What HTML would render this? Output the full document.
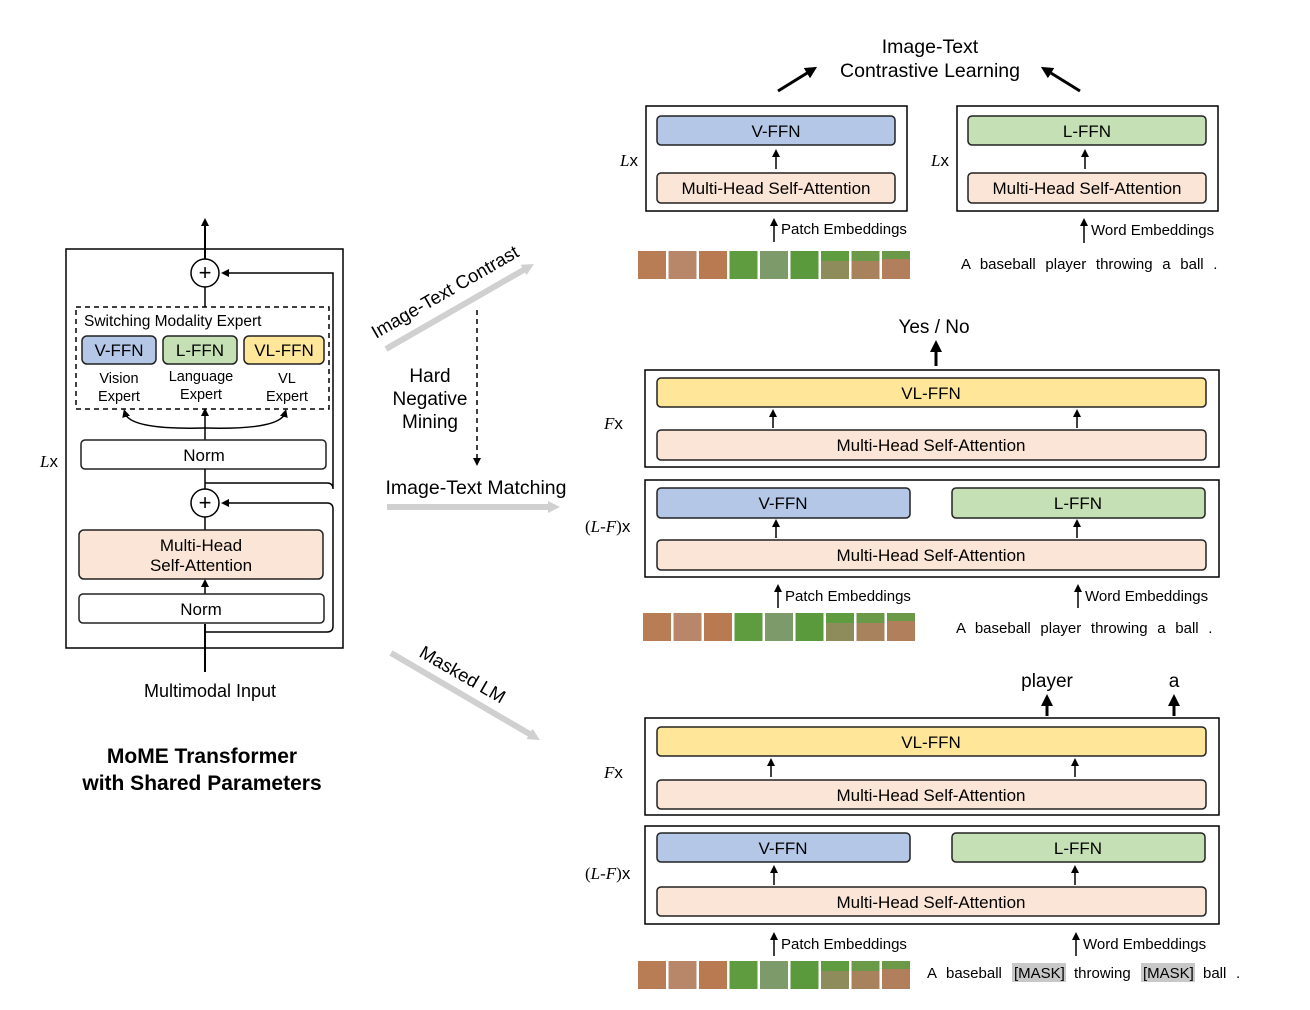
<!DOCTYPE html>
<html><head><meta charset="utf-8"><style>
html,body{margin:0;padding:0;background:#fff;}
svg{display:block;font-family:"Liberation Sans",sans-serif;}
</style></head><body>
<svg width="1310" height="1010" viewBox="0 0 1310 1010" xmlns="http://www.w3.org/2000/svg">
<defs>
<marker id="ah" markerWidth="8" markerHeight="8" refX="4" refY="4" orient="auto" markerUnits="userSpaceOnUse"><path d="M0,0 L8,4 L0,8 z" fill="#000"/></marker>
<marker id="ahb" markerWidth="12" markerHeight="12" refX="6" refY="6" orient="auto" markerUnits="userSpaceOnUse"><path d="M0,0 L12,6 L0,12 z" fill="#000"/></marker>
<marker id="ahg" markerWidth="12" markerHeight="12" refX="4" refY="6" orient="auto" markerUnits="userSpaceOnUse"><path d="M0,0 L12,6 L0,12 z" fill="#d0d0d0"/></marker>
<g id="strip">
<rect x="0" y="0" width="28" height="28" fill="#b97d55"/><rect x="30.5" y="0" width="28" height="28" fill="#b8876a"/><rect x="61" y="0" width="28" height="28" fill="#b97a52"/>
<rect x="91.5" y="0" width="28" height="28" fill="#5f9c40"/><rect x="122" y="0" width="28" height="28" fill="#7d9a6a"/><rect x="152.5" y="0" width="28" height="28" fill="#5a9a3c"/>
<rect x="183" y="0" width="28" height="28" fill="#8d8c5a"/><rect x="213.5" y="0" width="28" height="28" fill="#a7825c"/><rect x="244" y="0" width="28" height="28" fill="#b27f5c"/>
<rect x="183" y="0" width="28" height="10" fill="#5f9c40"/><rect x="213.5" y="0" width="28" height="10" fill="#6a9a48"/><rect x="244" y="0" width="28" height="8" fill="#6a9a48"/>
</g>
</defs>
<g font-size="17" fill="#000">
<!-- LEFT PANEL -->
<rect x="66" y="249" width="277" height="399" fill="none" stroke="#000" stroke-width="1.5"/>
<line x1="205" y1="672" x2="205" y2="624" stroke="#000" stroke-width="2"/>
<line x1="205" y1="259" x2="205" y2="222" stroke="#000" stroke-width="2" marker-end="url(#ah)"/>
<circle cx="205" cy="273" r="14" fill="#fff" stroke="#000" stroke-width="1.5"/>
<text x="205" y="280" font-size="22" text-anchor="middle">+</text>
<circle cx="205" cy="503" r="14" fill="#fff" stroke="#000" stroke-width="1.5"/>
<text x="205" y="510" font-size="22" text-anchor="middle">+</text>
<line x1="205" y1="287" x2="205" y2="307" stroke="#000" stroke-width="1.5"/>
<rect x="76" y="307" width="253" height="102" fill="none" stroke="#000" stroke-width="1.5" stroke-dasharray="5,4"/>
<text x="84" y="326" font-size="15.5">Switching Modality Expert</text>
<rect x="82" y="336" width="74" height="28" rx="5" fill="#b4c7e7" stroke="#222" stroke-width="1.5"/>
<text x="119" y="356" text-anchor="middle">V-FFN</text>
<rect x="163" y="336" width="74" height="28" rx="5" fill="#c5e0b4" stroke="#222" stroke-width="1.5"/>
<text x="200" y="356" text-anchor="middle">L-FFN</text>
<rect x="244" y="336" width="80" height="28" rx="5" fill="#ffe699" stroke="#222" stroke-width="1.5"/>
<text x="284" y="356" text-anchor="middle">VL-FFN</text>
<g font-size="14.5" text-anchor="middle">
<text x="119" y="383">Vision</text><text x="119" y="401">Expert</text>
<text x="201" y="381">Language</text><text x="201" y="399">Expert</text>
<text x="287" y="383">VL</text><text x="287" y="401">Expert</text>
</g>
<path d="M205,440 L205,412" stroke="#000" stroke-width="1.5" marker-end="url(#ah)"/>
<path d="M205,428 Q130,430 125,413" fill="none" stroke="#000" stroke-width="1.5" marker-end="url(#ah)"/>
<path d="M205,428 Q280,430 285,413" fill="none" stroke="#000" stroke-width="1.5" marker-end="url(#ah)"/>
<rect x="81" y="440" width="245" height="29" rx="4" fill="#fff" stroke="#222" stroke-width="1.5"/>
<text x="204" y="461" text-anchor="middle">Norm</text>
<line x1="205" y1="469" x2="205" y2="489" stroke="#000" stroke-width="1.5"/>
<line x1="205" y1="517" x2="205" y2="530" stroke="#000" stroke-width="1.5"/>
<path d="M205,483 L327,483 Q333,483 333,489 L333,273 L225,273" fill="none" stroke="#000" stroke-width="1.5" marker-end="url(#ah)"/>
<path d="M205,632 L327,632 Q333,632 333,626 L333,509 Q333,503 327,503 L225,503" fill="none" stroke="#000" stroke-width="1.5" marker-end="url(#ah)"/>
<rect x="79" y="530" width="244" height="49" rx="5" fill="#fbe5d6" stroke="#222" stroke-width="1.5"/>
<text x="201" y="551" text-anchor="middle">Multi-Head</text>
<text x="201" y="571" text-anchor="middle">Self-Attention</text>
<line x1="205" y1="594" x2="205" y2="583" stroke="#000" stroke-width="1.5" marker-end="url(#ah)"/>
<rect x="79" y="594" width="245" height="29" rx="4" fill="#fff" stroke="#222" stroke-width="1.5"/>
<text x="201" y="615" text-anchor="middle">Norm</text>
<text x="40" y="467" font-family="Liberation Serif" font-style="italic">L<tspan font-style="normal" font-family="Liberation Sans">x</tspan></text>
<text x="210" y="697" font-size="18" text-anchor="middle">Multimodal Input</text>
<text x="202" y="763" font-size="21" font-weight="bold" text-anchor="middle">MoME Transformer</text>
<text x="202" y="790" font-size="21" font-weight="bold" text-anchor="middle">with Shared Parameters</text>

<!-- MIDDLE ARROWS -->
<line x1="386" y1="349" x2="527" y2="268" stroke="#d0d0d0" stroke-width="6" marker-end="url(#ahg)"/>
<text x="0" y="0" font-size="18.5" transform="translate(376,339) rotate(-30)">Image-Text Contrast</text>
<line x1="477" y1="310" x2="477" y2="462" stroke="#000" stroke-width="1.5" stroke-dasharray="5,4" marker-end="url(#ah)"/>
<g font-size="19" text-anchor="middle"><text x="430" y="382">Hard</text><text x="430" y="405">Negative</text><text x="430" y="428">Mining</text></g>
<text x="476" y="494" font-size="19.5" text-anchor="middle">Image-Text Matching</text>
<line x1="387" y1="507" x2="552" y2="507" stroke="#d0d0d0" stroke-width="6" marker-end="url(#ahg)"/>
<line x1="391" y1="653" x2="533" y2="736" stroke="#d0d0d0" stroke-width="6" marker-end="url(#ahg)"/>
<text x="0" y="0" font-size="18.5" transform="translate(418,656) rotate(30)">Masked LM</text>

<!-- TOP RIGHT -->
<text x="930" y="53" font-size="19.5" text-anchor="middle">Image-Text</text>
<text x="930" y="77" font-size="19.5" text-anchor="middle">Contrastive Learning</text>
<line x1="778" y1="91" x2="812" y2="70" stroke="#000" stroke-width="3" marker-end="url(#ahb)"/>
<line x1="1080" y1="91" x2="1046" y2="70" stroke="#000" stroke-width="3" marker-end="url(#ahb)"/>
<rect x="646" y="106" width="261" height="105" fill="none" stroke="#000" stroke-width="1.5"/>
<rect x="657" y="116" width="238" height="29" rx="4" fill="#b4c7e7" stroke="#222" stroke-width="1.5"/>
<text x="776" y="137" text-anchor="middle">V-FFN</text>
<line x1="776" y1="169" x2="776" y2="153" stroke="#000" stroke-width="1.5" marker-end="url(#ah)"/>
<rect x="657" y="173" width="238" height="30" rx="4" fill="#fbe5d6" stroke="#222" stroke-width="1.5"/>
<text x="776" y="194" text-anchor="middle">Multi-Head Self-Attention</text>
<rect x="957" y="106" width="261" height="105" fill="none" stroke="#000" stroke-width="1.5"/>
<rect x="968" y="116" width="238" height="29" rx="4" fill="#c5e0b4" stroke="#222" stroke-width="1.5"/>
<text x="1087" y="137" text-anchor="middle">L-FFN</text>
<line x1="1085" y1="169" x2="1085" y2="153" stroke="#000" stroke-width="1.5" marker-end="url(#ah)"/>
<rect x="968" y="173" width="238" height="30" rx="4" fill="#fbe5d6" stroke="#222" stroke-width="1.5"/>
<text x="1087" y="194" text-anchor="middle">Multi-Head Self-Attention</text>
<text x="620" y="166" font-family="Liberation Serif" font-style="italic">L<tspan font-style="normal" font-family="Liberation Sans">x</tspan></text>
<text x="931" y="166" font-family="Liberation Serif" font-style="italic">L<tspan font-style="normal" font-family="Liberation Sans">x</tspan></text>
<line x1="774" y1="242" x2="774" y2="222" stroke="#000" stroke-width="1.5" marker-end="url(#ah)"/>
<text x="781" y="234" font-size="15">Patch Embeddings</text>
<line x1="1084" y1="243" x2="1084" y2="222" stroke="#000" stroke-width="1.5" marker-end="url(#ah)"/>
<text x="1091" y="235" font-size="15">Word Embeddings</text>
<use href="#strip" x="638" y="251"/>
<text x="961" y="269" font-size="15" word-spacing="5.5">A baseball player throwing a ball .</text>

<!-- MIDDLE RIGHT -->
<text x="934" y="333" font-size="19" text-anchor="middle">Yes / No</text>
<line x1="936" y1="366" x2="936" y2="346" stroke="#000" stroke-width="3" marker-end="url(#ahb)"/>
<rect x="645" y="370" width="574" height="97" fill="none" stroke="#000" stroke-width="1.5"/>
<rect x="657" y="378" width="549" height="29" rx="4" fill="#ffe699" stroke="#222" stroke-width="1.5"/>
<text x="931" y="399" text-anchor="middle">VL-FFN</text>
<line x1="773" y1="428" x2="773" y2="413" stroke="#000" stroke-width="1.5" marker-end="url(#ah)"/>
<line x1="1077" y1="428" x2="1077" y2="413" stroke="#000" stroke-width="1.5" marker-end="url(#ah)"/>
<rect x="657" y="430" width="549" height="30" rx="4" fill="#fbe5d6" stroke="#222" stroke-width="1.5"/>
<text x="931" y="451" text-anchor="middle">Multi-Head Self-Attention</text>
<text x="604" y="429" font-family="Liberation Serif" font-style="italic">F<tspan font-style="normal" font-family="Liberation Sans">x</tspan></text>
<rect x="645" y="480" width="574" height="97" fill="none" stroke="#000" stroke-width="1.5"/>
<rect x="657" y="488" width="253" height="30" rx="4" fill="#b4c7e7" stroke="#222" stroke-width="1.5"/>
<text x="783" y="509" text-anchor="middle">V-FFN</text>
<rect x="952" y="488" width="253" height="30" rx="4" fill="#c5e0b4" stroke="#222" stroke-width="1.5"/>
<text x="1078" y="509" text-anchor="middle">L-FFN</text>
<line x1="776" y1="538" x2="776" y2="523" stroke="#000" stroke-width="1.5" marker-end="url(#ah)"/>
<line x1="1077" y1="538" x2="1077" y2="523" stroke="#000" stroke-width="1.5" marker-end="url(#ah)"/>
<rect x="657" y="540" width="549" height="30" rx="4" fill="#fbe5d6" stroke="#222" stroke-width="1.5"/>
<text x="931" y="561" text-anchor="middle">Multi-Head Self-Attention</text>
<text x="585" y="532" font-family="Liberation Serif" font-style="italic"><tspan font-style="normal">(</tspan>L-F<tspan font-style="normal">)</tspan><tspan font-style="normal" font-family="Liberation Sans">x</tspan></text>
<line x1="778" y1="608" x2="778" y2="588" stroke="#000" stroke-width="1.5" marker-end="url(#ah)"/>
<text x="785" y="601" font-size="15">Patch Embeddings</text>
<line x1="1078" y1="608" x2="1078" y2="588" stroke="#000" stroke-width="1.5" marker-end="url(#ah)"/>
<text x="1085" y="601" font-size="15">Word Embeddings</text>
<use href="#strip" x="643" y="613"/>
<text x="956" y="633" font-size="15" word-spacing="5.5">A baseball player throwing a ball .</text>

<!-- BOTTOM RIGHT -->
<text x="1047" y="687" font-size="19" text-anchor="middle">player</text>
<text x="1174" y="687" font-size="19" text-anchor="middle">a</text>
<line x1="1047" y1="716" x2="1047" y2="700" stroke="#000" stroke-width="3" marker-end="url(#ahb)"/>
<line x1="1174" y1="716" x2="1174" y2="700" stroke="#000" stroke-width="3" marker-end="url(#ahb)"/>
<rect x="645" y="718" width="574" height="97" fill="none" stroke="#000" stroke-width="1.5"/>
<rect x="657" y="727" width="549" height="29" rx="4" fill="#ffe699" stroke="#222" stroke-width="1.5"/>
<text x="931" y="748" text-anchor="middle">VL-FFN</text>
<line x1="771" y1="777" x2="771" y2="762" stroke="#000" stroke-width="1.5" marker-end="url(#ah)"/>
<line x1="1075" y1="777" x2="1075" y2="762" stroke="#000" stroke-width="1.5" marker-end="url(#ah)"/>
<rect x="657" y="780" width="549" height="29" rx="4" fill="#fbe5d6" stroke="#222" stroke-width="1.5"/>
<text x="931" y="801" text-anchor="middle">Multi-Head Self-Attention</text>
<text x="604" y="778" font-family="Liberation Serif" font-style="italic">F<tspan font-style="normal" font-family="Liberation Sans">x</tspan></text>
<rect x="645" y="826" width="574" height="98" fill="none" stroke="#000" stroke-width="1.5"/>
<rect x="657" y="833" width="253" height="29" rx="4" fill="#b4c7e7" stroke="#222" stroke-width="1.5"/>
<text x="783" y="854" text-anchor="middle">V-FFN</text>
<rect x="952" y="833" width="253" height="29" rx="4" fill="#c5e0b4" stroke="#222" stroke-width="1.5"/>
<text x="1078" y="854" text-anchor="middle">L-FFN</text>
<line x1="774" y1="885" x2="774" y2="869" stroke="#000" stroke-width="1.5" marker-end="url(#ah)"/>
<line x1="1075" y1="885" x2="1075" y2="869" stroke="#000" stroke-width="1.5" marker-end="url(#ah)"/>
<rect x="657" y="887" width="549" height="29" rx="4" fill="#fbe5d6" stroke="#222" stroke-width="1.5"/>
<text x="931" y="908" text-anchor="middle">Multi-Head Self-Attention</text>
<text x="585" y="879" font-family="Liberation Serif" font-style="italic"><tspan font-style="normal">(</tspan>L-F<tspan font-style="normal">)</tspan><tspan font-style="normal" font-family="Liberation Sans">x</tspan></text>
<line x1="774" y1="956" x2="774" y2="936" stroke="#000" stroke-width="1.5" marker-end="url(#ah)"/>
<text x="781" y="949" font-size="15">Patch Embeddings</text>
<line x1="1076" y1="956" x2="1076" y2="936" stroke="#000" stroke-width="1.5" marker-end="url(#ah)"/>
<text x="1083" y="949" font-size="15">Word Embeddings</text>
<use href="#strip" x="638" y="961"/>
<rect x="1012" y="963" width="54" height="19" fill="#c8c8c8"/>
<rect x="1141" y="963" width="54" height="19" fill="#c8c8c8"/>
<g font-size="15">
<text x="927" y="978">A</text><text x="946" y="978">baseball</text><text x="1014" y="978">[MASK]</text>
<text x="1074" y="978">throwing</text><text x="1143" y="978">[MASK]</text><text x="1203" y="978">ball</text><text x="1236" y="978">.</text>
</g>
</g>
</svg>
</body></html>
